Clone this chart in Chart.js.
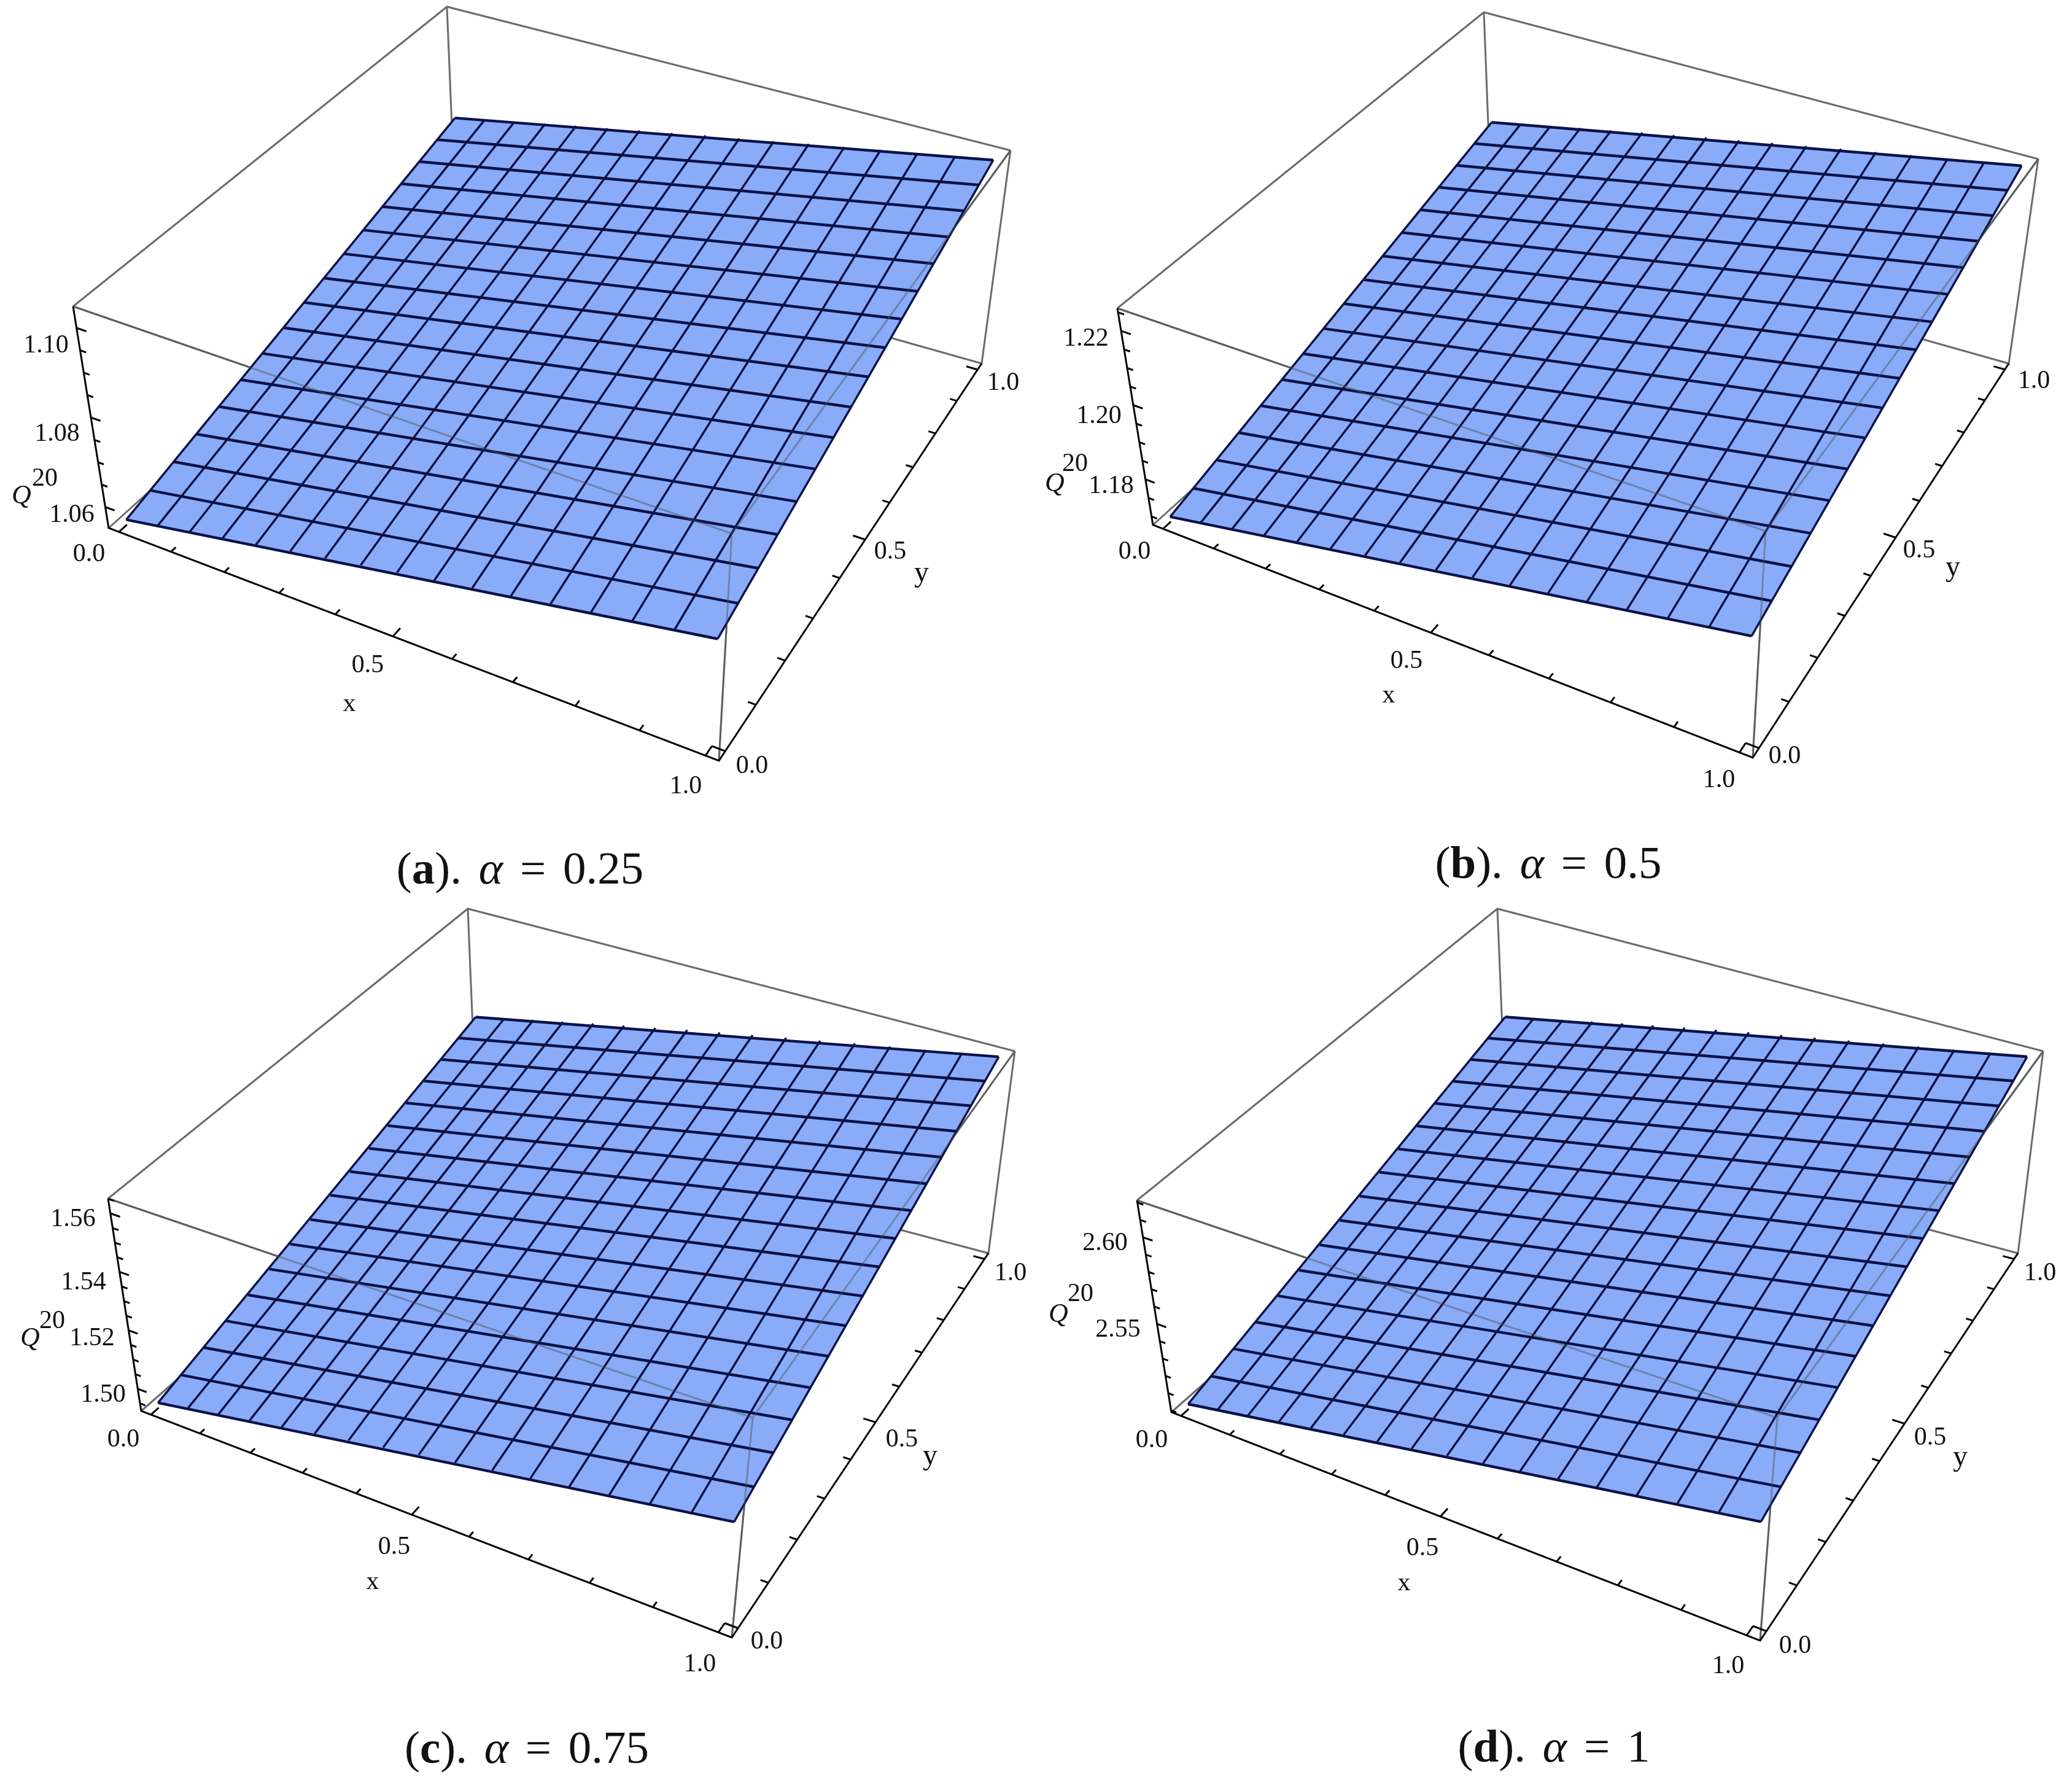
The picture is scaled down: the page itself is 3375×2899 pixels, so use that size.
<!DOCTYPE html>
<html>
<head>
<meta charset="utf-8">
<title>Q20 surfaces</title>
<script src="https://cdn.jsdelivr.net/npm/chart.js@4/dist/chart.umd.js"></script>
<style>
    html, body { margin: 0; padding: 0; background: #ffffff; }
    #page { position: relative; width: 3375px; height: 2899px; overflow: hidden; }
    canvas { position: absolute; }
    .caption {
        position: absolute;
        transform: translate(-50%, -50%);
        font-family: "Liberation Serif", serif;
        font-size: 75px;
        word-spacing: 9px;
        white-space: nowrap;
        color: #111111;
    }
</style>
</head>
<body>
<div id="page"></div>
<script>
// mesh lines of the surface (same levels on x and y)
const meshLevels = [0, 0.0625, 0.125, 0.1875, 0.25, 0.3125, 0.375, 0.4375, 0.5, 0.5625, 0.625, 0.6875, 0.75, 0.8125, 0.875, 0.9375, 1];

// ticks on the two floor axes
const floorTicks = [0, 0.1, 0.2, 0.3, 0.4, 0.5, 0.6, 0.7, 0.8, 0.9, 1];
const floorMajor = [0, 0.5, 1];
const floorLabels = ['0.0', '0.5', '1.0'];

// (a) alpha = 0.25, Q at the ends of every mesh line
const qA_y0 = [1.0564, 1.0578, 1.0592, 1.0606, 1.0620, 1.0634, 1.0648, 1.0662, 1.0676, 1.0689, 1.0703, 1.0717, 1.0731, 1.0745, 1.0759, 1.0773, 1.0787];
const qA_y1 = [1.0801, 1.0815, 1.0830, 1.0844, 1.0859, 1.0873, 1.0888, 1.0902, 1.0917, 1.0931, 1.0945, 1.0960, 1.0974, 1.0989, 1.1003, 1.1018, 1.1032];
const qA_x0 = [1.0564, 1.0579, 1.0594, 1.0608, 1.0623, 1.0638, 1.0653, 1.0668, 1.0683, 1.0697, 1.0712, 1.0727, 1.0742, 1.0757, 1.0771, 1.0786, 1.0801];
const qA_x1 = [1.0787, 1.0802, 1.0818, 1.0833, 1.0848, 1.0864, 1.0879, 1.0894, 1.0910, 1.0925, 1.0940, 1.0955, 1.0971, 1.0986, 1.1001, 1.1017, 1.1032];
const qA_ticks = [1.06, 1.065, 1.07, 1.075, 1.08, 1.085, 1.09, 1.095, 1.10];
const qA_major = [1.06, 1.08, 1.10];
const qA_labels = ['1.06', '1.08', '1.10'];

// (b) alpha = 0.5
const qB_y0 = [1.1690, 1.1707, 1.1723, 1.1740, 1.1756, 1.1773, 1.1789, 1.1806, 1.1822, 1.1839, 1.1855, 1.1872, 1.1888, 1.1905, 1.1921, 1.1938, 1.1954];
const qB_y1 = [1.1969, 1.1987, 1.2004, 1.2022, 1.2039, 1.2057, 1.2074, 1.2092, 1.2109, 1.2127, 1.2144, 1.2162, 1.2179, 1.2197, 1.2214, 1.2232, 1.2249];
const qB_x0 = [1.1690, 1.1707, 1.1725, 1.1742, 1.1760, 1.1777, 1.1795, 1.1812, 1.1830, 1.1847, 1.1864, 1.1882, 1.1899, 1.1917, 1.1934, 1.1952, 1.1969];
const qB_x1 = [1.1954, 1.1972, 1.1991, 1.2009, 1.2028, 1.2046, 1.2065, 1.2083, 1.2102, 1.2120, 1.2138, 1.2157, 1.2175, 1.2194, 1.2212, 1.2231, 1.2249];
const qB_ticks = [1.17, 1.175, 1.18, 1.185, 1.19, 1.195, 1.20, 1.205, 1.21, 1.215, 1.22, 1.225];
const qB_major = [1.18, 1.20, 1.22];
const qB_labels = ['1.18', '1.20', '1.22'];

// (c) alpha = 0.75
const qC_y0 = [1.4941, 1.4961, 1.4981, 1.5001, 1.5021, 1.5041, 1.5061, 1.5081, 1.5101, 1.5120, 1.5140, 1.5160, 1.5180, 1.5200, 1.5220, 1.5240, 1.5260];
const qC_y1 = [1.5298, 1.5319, 1.5341, 1.5362, 1.5384, 1.5405, 1.5426, 1.5448, 1.5469, 1.5490, 1.5512, 1.5533, 1.5555, 1.5576, 1.5597, 1.5619, 1.5640];
const qC_x0 = [1.4941, 1.4963, 1.4986, 1.5008, 1.5030, 1.5053, 1.5075, 1.5097, 1.5120, 1.5142, 1.5164, 1.5186, 1.5209, 1.5231, 1.5253, 1.5276, 1.5298];
const qC_x1 = [1.5260, 1.5284, 1.5308, 1.5331, 1.5355, 1.5379, 1.5403, 1.5426, 1.5450, 1.5474, 1.5498, 1.5521, 1.5545, 1.5569, 1.5593, 1.5616, 1.5640];
const qC_ticks = [1.495, 1.50, 1.505, 1.51, 1.515, 1.52, 1.525, 1.53, 1.535, 1.54, 1.545, 1.55, 1.555, 1.56, 1.565];
const qC_major = [1.50, 1.52, 1.54, 1.56];
const qC_labels = ['1.50', '1.52', '1.54', '1.56'];

// (d) alpha = 1
const qD_y0 = [2.5018, 2.5052, 2.5086, 2.5121, 2.5155, 2.5189, 2.5223, 2.5257, 2.5292, 2.5326, 2.5360, 2.5394, 2.5428, 2.5462, 2.5497, 2.5531, 2.5565];
const qD_y1 = [2.5620, 2.5656, 2.5692, 2.5728, 2.5764, 2.5800, 2.5836, 2.5872, 2.5908, 2.5943, 2.5979, 2.6015, 2.6051, 2.6087, 2.6123, 2.6159, 2.6195];
const qD_x0 = [2.5018, 2.5056, 2.5093, 2.5131, 2.5169, 2.5206, 2.5244, 2.5281, 2.5319, 2.5357, 2.5394, 2.5432, 2.5470, 2.5507, 2.5545, 2.5582, 2.5620];
const qD_x1 = [2.5565, 2.5604, 2.5644, 2.5683, 2.5723, 2.5762, 2.5801, 2.5841, 2.5880, 2.5919, 2.5959, 2.5998, 2.6038, 2.6077, 2.6116, 2.6156, 2.6195];
const qD_ticks = [2.50, 2.51, 2.52, 2.53, 2.54, 2.55, 2.56, 2.57, 2.58, 2.59, 2.60, 2.61, 2.62];
const qD_major = [2.55, 2.60];
const qD_labels = ['2.55', '2.60'];

// Camera of each panel: where the box corners land on the page, corners in the
// order (xmin,ymin) (xmax,ymin) (xmax,ymax) (xmin,ymax). Label spots are page px.
const panels = [
    {
        frame: { left: 0, top: 0, width: 1685, height: 1450 },
        floor: [[177, 860], [1171, 1239], [1599, 592], [742, 350]],
        roof: [[119, 499], [1192, 869], [1646, 245], [728, 11]],
        qRange: [1.0553, 1.1048],
        q: { y0: qA_y0, y1: qA_y1, x0: qA_x0, x1: qA_x1, ticks: qA_ticks, major: qA_major, labels: qA_labels },
        qSpots: [[117, 839], [93, 707], [75, 563]],
        xSpots: [[145, 903], [599, 1084], [1117, 1281]],
        ySpots: [[1225, 1248], [1450, 899], [1634, 624]],
        xName: [569, 1147], yName: [1501, 934], qName: [35, 808], qPower: [73, 780]
    },
    {
        frame: { left: 1685, top: 0, width: 1690, height: 1450 },
        floor: [[1878, 855], [2855, 1234], [3272, 592], [2430, 355]],
        roof: [[1820, 502], [2876, 865], [3320, 259], [2417, 20]],
        qRange: [1.1677, 1.2261],
        q: { y0: qB_y0, y1: qB_y1, x0: qB_x0, x1: qB_x1, ticks: qB_ticks, major: qB_major, labels: qB_labels },
        qSpots: [[1810, 792], [1790, 678], [1769, 552]],
        xSpots: [[1848, 899], [2291, 1077], [2800, 1271]],
        ySpots: [[2907, 1232], [3126, 897], [3313, 621]],
        xName: [2262, 1133], yName: [3181, 925], qName: [1718, 788], qPower: [1751, 756]
    },
    {
        frame: { left: 0, top: 1450, width: 1685, height: 1449 },
        floor: [[230, 2298], [1192, 2667], [1610, 2041], [776, 1820]],
        roof: [[176, 1952], [1226, 2309], [1653, 1712], [762, 1480]],
        qRange: [1.4924, 1.5651],
        q: { y0: qC_y0, y1: qC_y1, x0: qC_x0, x1: qC_x1, ticks: qC_ticks, major: qC_major, labels: qC_labels },
        qSpots: [[168, 2272], [150, 2180], [136, 2089], [119, 1986]],
        xSpots: [[201, 2345], [642, 2520], [1140, 2711]],
        ySpots: [[1249, 2674], [1469, 2345], [1646, 2074]],
        xName: [607, 2577], yName: [1515, 2372], qName: [49, 2180], qPower: [85, 2152]
    },
    {
        frame: { left: 1685, top: 1450, width: 1690, height: 1449 },
        floor: [[1908, 2300], [2867, 2672], [3287, 2041], [2453, 1820]],
        roof: [[1852, 1955], [2895, 2309], [3328, 1712], [2439, 1480]],
        qRange: [2.499, 2.6213],
        q: { y0: qD_y0, y1: qD_y1, x0: qD_x0, x1: qD_x1, ticks: qD_ticks, major: qD_major, labels: qD_labels },
        qSpots: [[1821, 2166], [1800, 2025]],
        xSpots: [[1876, 2346], [2317, 2522], [2815, 2714]],
        ySpots: [[2924, 2681], [3144, 2342], [3323, 2074]],
        xName: [2287, 2579], yName: [3193, 2374], qName: [1724, 2141], qPower: [1760, 2108]
    }
];

const captions = [
    { letter: 'a', alpha: '0.25', at: [847, 1414] },
    { letter: 'b', alpha: '0.5', at: [2522, 1405] },
    { letter: 'c', alpha: '0.75', at: [858, 2846] },
    { letter: 'd', alpha: '1', at: [2531, 2844] }
];

const PAD = 0.02; // the box sticks out of the data by this much on x and y
const BREAK = { x: NaN, y: NaN };

// Unit square -> quad (Heckbert), returns the projective map
function squareToQuad(q) {
    const [[x0, y0], [x1, y1], [x2, y2], [x3, y3]] = q;
    const sx = x0 - x1 + x2 - x3, sy = y0 - y1 + y2 - y3;
    const dx1 = x1 - x2, dx2 = x3 - x2, dy1 = y1 - y2, dy2 = y3 - y2;
    const den = dx1 * dy2 - dx2 * dy1;
    const g = (sx * dy2 - dx2 * sy) / den;
    const h = (dx1 * sy - sx * dy1) / den;
    const a = x1 - x0 + g * x1, b = x3 - x0 + h * x3;
    const d = y1 - y0 + g * y1, e = y3 - y0 + h * y3;
    return (u, v) => {
        const w = g * u + h * v + 1;
        return [(a * u + b * v + x0) / w, (d * u + e * v + y0) / w];
    };
}

// (x, y, q) in data units -> chart point
function makeProjector(panel) {
    const floorMap = squareToQuad(panel.floor);
    const roofMap = squareToQuad(panel.roof);
    const [qMin, qMax] = panel.qRange;
    return (x, y, q) => {
        const u = (x + PAD) / (1 + 2 * PAD);
        const v = (y + PAD) / (1 + 2 * PAD);
        const t = (q - qMin) / (qMax - qMin);
        const a = floorMap(u, v), b = roofMap(u, v);
        return { x: a[0] + (b[0] - a[0]) * t, y: a[1] + (b[1] - a[1]) * t };
    };
}

function lineDataset(label, data, color, width, order) {
    return { label, data, showLine: true, borderColor: color, borderWidth: width, pointRadius: 0, fill: false, order };
}

function buildDatasets(panel) {
    const p = makeProjector(panel);
    const { y0, y1, x0, x1, ticks, major } = panel.q;
    const [qMin, qMax] = panel.qRange;
    const lo = -PAD, hi = 1 + PAD;

    // box corners
    const fl = [p(lo, lo, qMin), p(hi, lo, qMin), p(hi, hi, qMin), p(lo, hi, qMin)];
    const rf = [p(lo, lo, qMax), p(hi, lo, qMax), p(hi, hi, qMax), p(lo, hi, qMax)];

    const boxBack = [
        rf[0], rf[3], rf[2], BREAK,
        rf[3], fl[3], BREAK,
        rf[2], fl[2], fl[3], fl[0], BREAK,
        rf[0], rf[1], rf[2], BREAK,
        rf[1], fl[1]
    ];
    const boxFront = [rf[0], rf[1], rf[2], BREAK, rf[1], fl[1]];

    const last = meshLevels.length - 1;
    const surface = [p(0, 0, y0[0]), p(1, 0, y0[last]), p(1, 1, y1[last]), p(0, 1, y1[0]), p(0, 0, y0[0])];

    const meshX = [], meshY = [];
    meshLevels.forEach((level, i) => {
        meshX.push(p(level, 0, y0[i]), p(level, 1, y1[i]), BREAK);
        meshY.push(p(0, level, x0[i]), p(1, level, x1[i]), BREAK);
    });

    const axes = [rf[0], fl[0], fl[1], fl[2]];
    const tickMarks = [];
    floorTicks.forEach(t => {
        const len = floorMajor.includes(t) ? 0.02 : 0.012;
        tickMarks.push(p(t, lo, qMin), p(t, lo + len, qMin), BREAK);
        tickMarks.push(p(hi, t, qMin), p(hi - len, t, qMin), BREAK);
    });
    ticks.forEach(t => {
        const len = major.includes(t) ? 0.018 : 0.011;
        tickMarks.push(p(lo, lo, t), p(lo + len, lo, t), BREAK);
    });

    const surfaceSet = lineDataset('surface', surface, '#8aabf8', 1, 4);
    surfaceSet.backgroundColor = '#8aabf8';
    surfaceSet.fill = 'shape';

    return [
        lineDataset('box', boxBack, '#6b6b6b', 3, 5),
        surfaceSet,
        lineDataset('mesh x', meshX, '#0b1248', 3.5, 3),
        lineDataset('mesh y', meshY, '#0b1248', 4.5, 3),
        lineDataset('box over surface', boxFront, 'rgba(70,85,85,0.45)', 3, 2),
        lineDataset('axes', axes, '#000000', 3, 1),
        lineDataset('ticks', tickMarks, '#000000', 3, 1)
    ];
}

// Text labels next to the 3D axes
const axisText = {
    id: 'axisText',
    afterDatasetsDraw(chart) {
        const panel = chart.options.plugins.axisText.panel;
        const { ctx, scales } = chart;
        const put = (text, at) => ctx.fillText(text, scales.x.getPixelForValue(at[0]), scales.y.getPixelForValue(at[1]));

        ctx.save();
        ctx.fillStyle = '#111111';
        ctx.textAlign = 'center';
        ctx.textBaseline = 'middle';
        ctx.font = '42px "Liberation Serif"';
        panel.q.labels.forEach((text, i) => put(text, panel.qSpots[i]));
        floorLabels.forEach((text, i) => {
            put(text, panel.xSpots[i]);
            put(text, panel.ySpots[i]);
        });
        put('x', panel.xName);
        put('20', panel.qPower);
        ctx.font = '48px "Liberation Serif"';
        put('y', panel.yName);
        ctx.font = 'italic 44px "Liberation Serif"';
        put('Q', panel.qName);
        ctx.restore();
    }
};

function drawPanel(panel) {
    const { left, top, width, height } = panel.frame;
    const canvas = document.createElement('canvas');
    canvas.width = width;
    canvas.height = height;
    canvas.style.left = left + 'px';
    canvas.style.top = top + 'px';
    canvas.style.width = width + 'px';
    canvas.style.height = height + 'px';
    document.getElementById('page').appendChild(canvas);

    new Chart(canvas.getContext('2d'), {
        type: 'scatter',
        data: { datasets: buildDatasets(panel) },
        options: {
            responsive: false,
            animation: false,
            devicePixelRatio: 1,
            layout: { padding: 0 },
            scales: {
                x: { type: 'linear', display: false, min: left, max: left + width },
                y: { type: 'linear', display: false, reverse: true, min: top, max: top + height }
            },
            elements: { line: { tension: 0, borderJoinStyle: 'miter' } },
            plugins: {
                legend: { display: false },
                tooltip: { enabled: false },
                axisText: { panel }
            }
        },
        plugins: [axisText]
    });
}

panels.forEach(drawPanel);

captions.forEach(c => {
    const el = document.createElement('div');
    el.className = 'caption';
    el.style.left = c.at[0] + 'px';
    el.style.top = c.at[1] + 'px';
    el.innerHTML = `(<b>${c.letter}</b>). <i>α</i> = ${c.alpha}`;
    document.getElementById('page').appendChild(el);
});
</script>
</body>
</html>
